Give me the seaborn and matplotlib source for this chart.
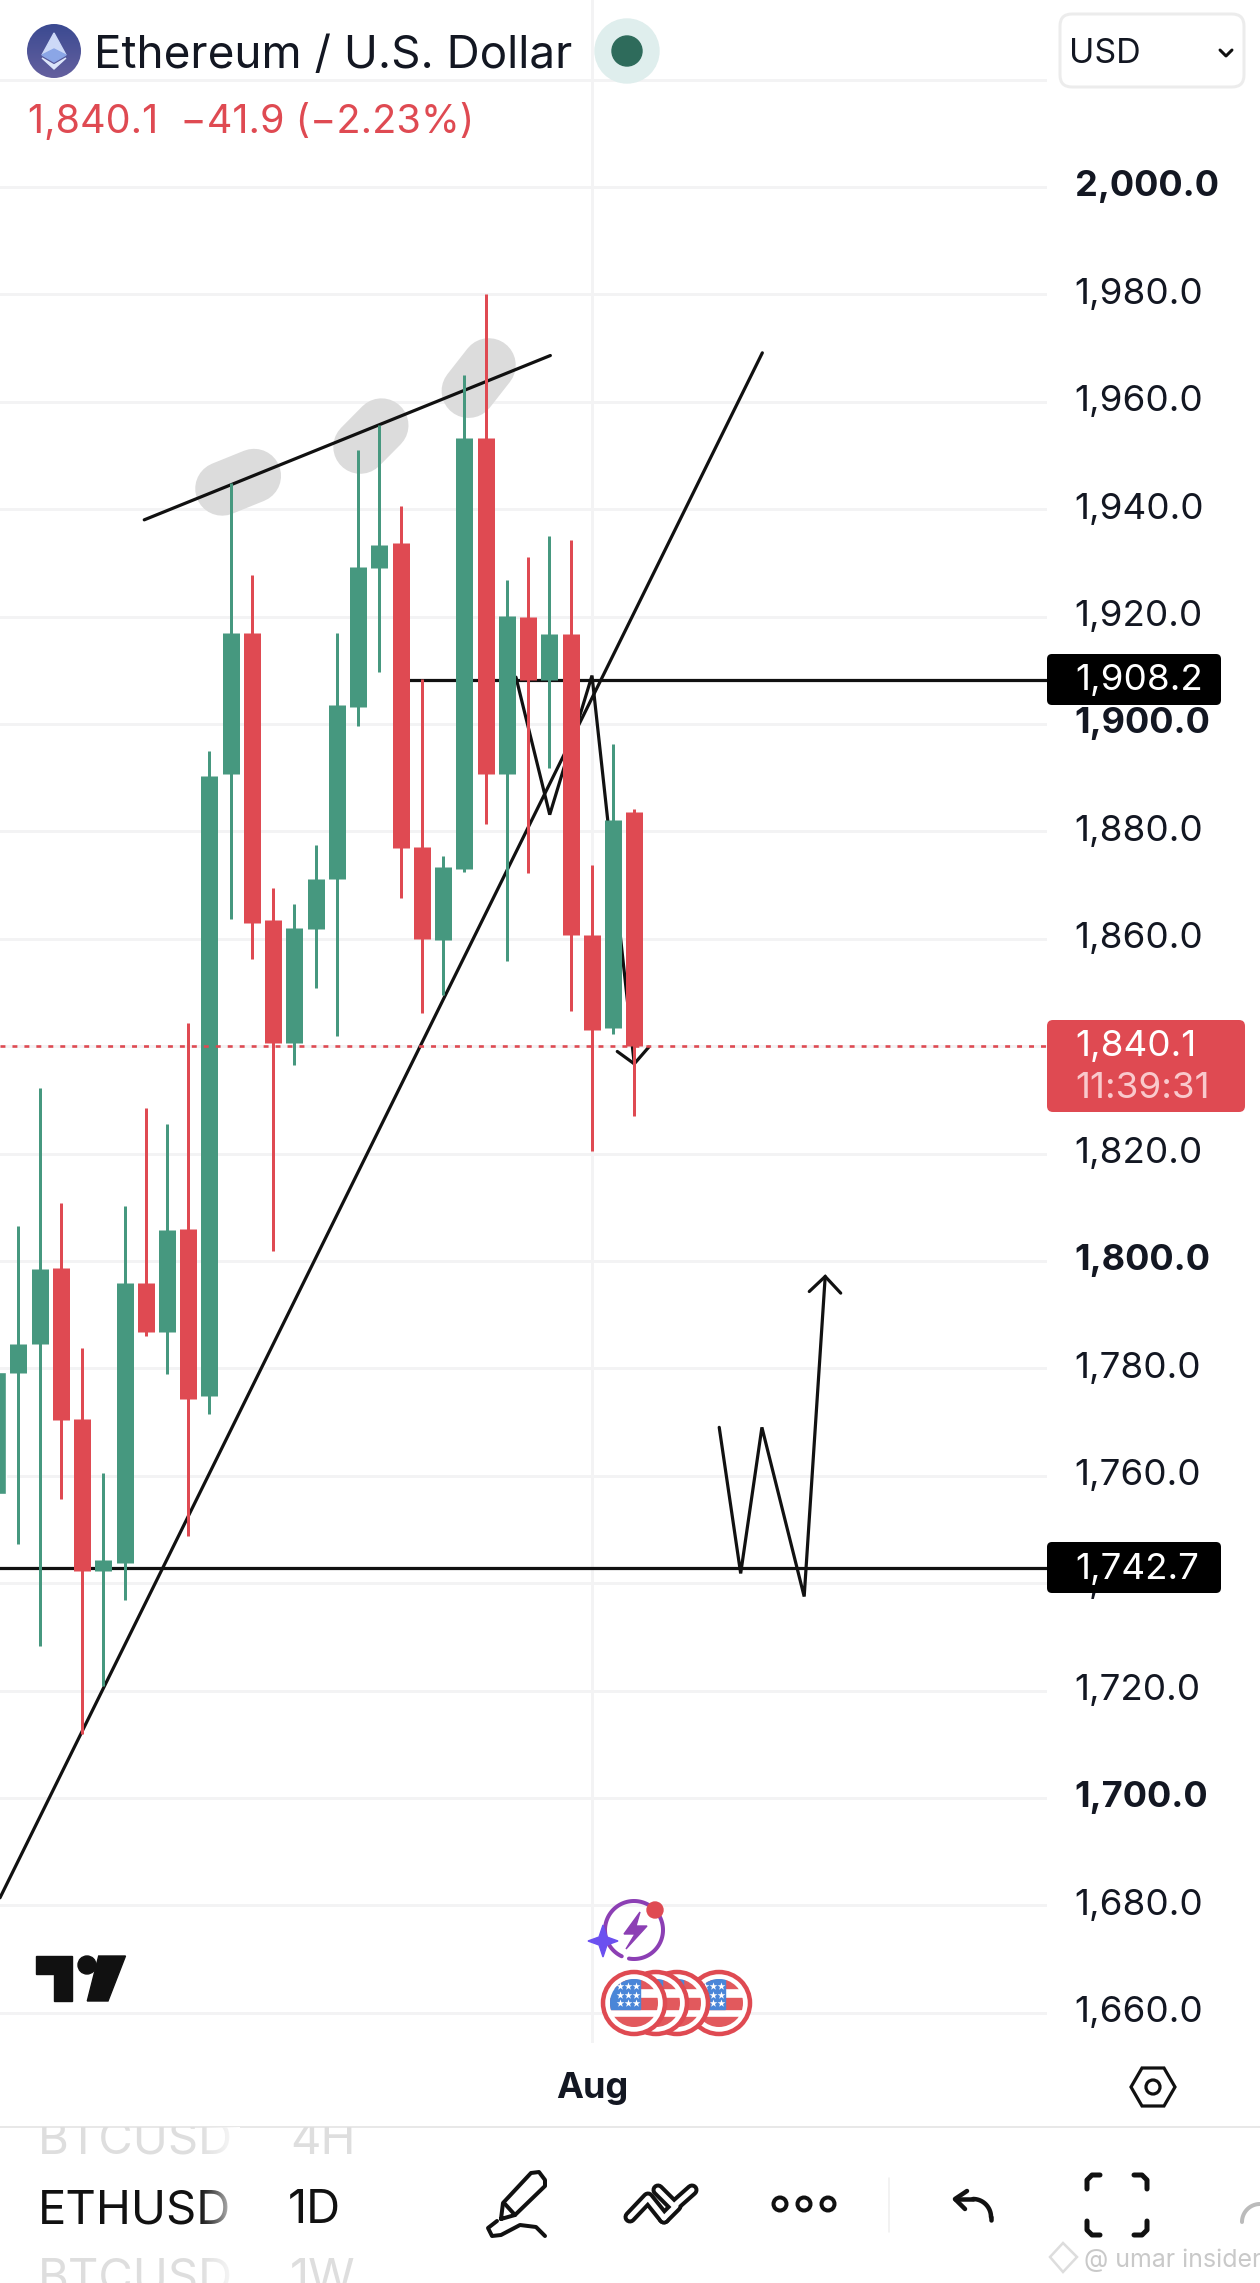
import numpy as np
import pandas as pd
import matplotlib.pyplot as plt
import seaborn as sns
from matplotlib.patches import Circle, Polygon, Rectangle, FancyBboxPatch

# daily candles, bar number = position from the left edge
bars = list(range(31))
opens = [1756.5, 1779.2, 1784.5, 1798.7, 1770.5, 1742.2, 1743.8, 1795.9, 1786.8, 1805.9, 1774.8,
         1890.7, 1916.9, 1863.5, 1840.6, 1861.8, 1871.1, 1903.1, 1929.1, 1933.7, 1877.1,
         1859.7, 1873.0, 1953.2, 1890.7, 1919.9, 1908.2, 1916.7, 1860.7, 1843.4, 1883.6]
highs = [1790.0, 1806.5, 1832.2, 1810.8, 1783.7, 1760.5, 1810.3, 1828.5, 1825.5, 1844.3, 1895.0,
         1944.8, 1927.7, 1869.4, 1866.5, 1877.5, 1916.9, 1951.0, 1955.6, 1940.6, 1908.3,
         1875.4, 1965.0, 1980.1, 1926.8, 1931.1, 1935.0, 1934.2, 1873.7, 1896.2, 1884.1]
lows = [1745.0, 1747.3, 1728.2, 1755.7, 1711.9, 1720.8, 1736.8, 1786.1, 1779.0, 1748.7, 1771.5,
        1863.6, 1856.2, 1801.9, 1836.5, 1850.8, 1841.9, 1899.6, 1909.7, 1867.6, 1846.2,
        1849.6, 1872.5, 1881.4, 1855.9, 1872.2, 1891.8, 1846.5, 1820.4, 1842.3, 1827.0]
closes = [1779.3, 1784.5, 1798.5, 1770.3, 1742.3, 1744.3, 1795.9, 1786.8, 1805.8, 1774.3, 1890.3,
          1916.9, 1862.9, 1840.6, 1862.0, 1871.1, 1903.5, 1929.2, 1933.4, 1876.9, 1859.9,
          1873.3, 1953.2, 1890.7, 1920.1, 1908.2, 1916.7, 1860.7, 1843.0, 1882.1, 1840.1]

price_ticks = [2000, 1980, 1960, 1940, 1920, 1900, 1880, 1860, 1840, 1820, 1800,
               1780, 1760, 1740, 1720, 1700, 1680, 1660]
bold_ticks = [2000, 1900, 1800, 1700]
last_price = 1840.1
level_high = 1908.2
level_low = 1742.9
aug_bar = 28

# hand drawn lines on the chart, in bar / price
top_line_x = [6.93, 26.05]
top_line_y = [1938.0, 1968.6]
rise_line_x = [0.138, 36.03]
rise_line_y = [1681.4, 1969.1]
zig_x = [24.43, 26.02, 28.01, 30.0]
zig_y = [1908.7, 1883.1, 1909.0, 1836.7]
zig_head_x = [29.2, 30.0, 30.68]
zig_head_y = [1839.0, 1836.7, 1839.8]
w_x = [34.0, 35.01, 36.01, 38.0, 38.99]
w_y = [1769.0, 1741.8, 1769.0, 1737.5, 1797.1]
w_head_x = [38.24, 38.99, 39.72]
w_head_y = [1794.3, 1797.1, 1794.0]
blobs_x = [[10.6, 12.1], [17.1, 18.1], [22.2, 23.15]]
blobs_y = [[1943.8, 1946.2], [1951.6, 1955.6], [1962.0, 1966.8]]

GREEN = '#46987f'
RED = '#df4a52'
INK = '#131722'
GRID = '#f3f3f4'
W, H = 1260, 2283


def px(v):
    # line width in image pixels
    return v * 0.72


sns.set_theme(style='white')
plt.rcParams['font.family'] = ['Inter', 'DejaVu Sans']

df = pd.DataFrame({'bar': bars, 'open': opens, 'high': highs, 'low': lows, 'close': closes})
df['dir'] = np.where(df['close'] >= df['open'], 'up', 'down')
wicks = df.melt(id_vars=['bar', 'dir'], value_vars=['high', 'low'], value_name='price')
bodies = df.melt(id_vars=['bar', 'dir'], value_vars=['open', 'close'], value_name='price')
palette = {'up': GREEN, 'down': RED}

fig = plt.figure(figsize=(W / 100, H / 100), dpi=100, facecolor='white')
pane_w, pane_h = 1047, 2043
ax = fig.add_axes([0, 1 - pane_h / H, pane_w / W, pane_h / H])

# scale: 21.24 px per bar, 5.37 px per dollar
left = 1 - 18.3 / 21.24
ax.set_xlim(left, left + pane_w / 21.24)
ax.set_ylim(1980 - (pane_h - 294.3) / 5.37, 1980 + 294.3 / 5.37)

# grid first, the drawings sit under the candles
ax.set_axisbelow(True)
ax.grid(True, color=GRID, lw=px(3))
for s in ax.spines.values():
    s.set_visible(False)

for bx, by in zip(blobs_x, blobs_y):
    ax.plot(bx, by, color='#dcdcdc', lw=px(54), solid_capstyle='round', zorder=1.2)

draw = dict(color='#111111', lw=px(3.2), zorder=1.5, solid_joinstyle='miter')
ax.plot(top_line_x, top_line_y, **draw)
ax.plot(rise_line_x, rise_line_y, **draw)
ax.plot([19.2, 60], [level_high, level_high], **draw)
ax.plot([-1, 60], [level_low, level_low], **draw)
ax.plot(zig_x, zig_y, **draw)
ax.plot(zig_head_x, zig_head_y, **draw)
ax.plot(w_x, w_y, **draw)
ax.plot(w_head_x, w_head_y, **draw)

sns.lineplot(data=wicks, x='bar', y='price', hue='dir', units='bar', estimator=None, palette=palette,
             lw=px(3), legend=False, ax=ax, solid_capstyle='butt', zorder=2)
sns.lineplot(data=bodies, x='bar', y='price', hue='dir', units='bar', estimator=None, palette=palette,
             lw=px(17), legend=False, ax=ax, solid_capstyle='butt', zorder=2.1)
# bar 0 is centred off the canvas, agg drops a line there so it needs a real bar
ax.bar(bars[0], closes[0] - opens[0], bottom=opens[0], width=17 / 21.24, color=GREEN, zorder=2.1)

ax.axhline(last_price, color=RED, lw=px(2.6), ls=(0, (1.9, 2.7)), zorder=3)

ax.set_xlabel('')
ax.set_ylabel('')
ax.set_yticks([2020] + price_ticks)
ax.set_yticklabels([''] + [f'{p:,.1f}' for p in price_ticks])
ax.yaxis.tick_right()
ax.tick_params(axis='y', length=0, pad=20, labelsize=26.5, labelcolor=INK)
for lab, p in zip(ax.get_yticklabels()[1:], price_ticks):
    lab.set_verticalalignment('center')
    if p in bold_ticks:
        lab.set_fontweight('bold')
        lab.set_fontsize(26)
ax.set_xticks([aug_bar])
ax.set_xticklabels(['Aug'], fontweight='bold', fontsize=26, color=INK)
ax.tick_params(axis='x', length=0, pad=21)

# everything around the chart in image pixels
ui = fig.add_axes([0, 0, 1, 1], facecolor='none')
ui.set_xlim(0, W)
ui.set_ylim(H, 0)
ui.axis('off')


def stroke(xs, ys, width=4.5, color='#111111', z=5, cap='round'):
    ui.plot(xs, ys, color=color, lw=px(width), solid_capstyle=cap, solid_joinstyle='round', zorder=z)


def arc(cx, cy, r, a0, a1, **kw):
    t = np.radians(np.linspace(a0, a1, 60))
    stroke(cx + r * np.cos(t), cy + r * np.sin(t), **kw)


# header
ui.imshow(np.linspace(0, 1, 64)[:, None], extent=(27, 81, 78, 24), aspect='auto', zorder=4,
          cmap=plt.matplotlib.colors.LinearSegmentedColormap.from_list('eth', ['#3b4a91', '#64609f']))
ui.set_xlim(0, W)
ui.set_ylim(H, 0)
ui.images[0].set_clip_path(Circle((54, 51), 27, transform=ui.transData))
ui.add_patch(Polygon([(54, 33), (66, 55), (54, 49), (42, 55)], color='#cdd9f7', zorder=5))
ui.add_patch(Polygon([(54, 49), (66, 55), (54, 62), (42, 55)], color='#8ba6e6', zorder=5))
ui.add_patch(Polygon([(42, 58), (54, 65), (66, 58), (54, 69)], color='#dde6fa', zorder=5))
ui.text(94, 68, 'Ethereum / U.S. Dollar', fontsize=33, color=INK, zorder=6)
ui.add_patch(Circle((627, 51), 32, color='#dfeeed', zorder=5))
ui.add_patch(Circle((627, 51), 15, color='#2e6b5b', zorder=6))
ui.text(28, 133, '1,840.1  \u221241.9 (\u22122.23%)', fontsize=28.5, color=RED, zorder=6)
ui.add_patch(FancyBboxPatch((1060, 14), 184, 73, boxstyle='round,pad=0,rounding_size=12',
                            fc='white', ec='#ececec', lw=px(3), zorder=5))
ui.text(1069, 63, 'USD', fontsize=24.5, color=INK, zorder=6)
stroke([1220, 1226, 1232], [50, 56, 50], width=3)

# price tags, they cover the axis labels
ui.add_patch(FancyBboxPatch((1047, 654), 174, 51, boxstyle='round,pad=0,rounding_size=5', fc='black', ec='none', zorder=5))
ui.add_patch(FancyBboxPatch((1047, 1542), 174, 51, boxstyle='round,pad=0,rounding_size=5', fc='black', ec='none', zorder=5))
ui.add_patch(FancyBboxPatch((1047, 1020), 198, 92, boxstyle='round,pad=0,rounding_size=6', fc=RED, ec='none', zorder=5))
ui.text(1075, 690, '1,908.2', fontsize=26.5, color='white', zorder=6)
ui.text(1075, 1579, '1,742.7', fontsize=26.5, color='white', zorder=6)
ui.text(1075, 1056, '1,840.1', fontsize=26.5, color='white', zorder=6)
ui.text(1075, 1098, '11:39:31', fontsize=26.5, color='#f9c9cc', zorder=6)

# tradingview logo
ui.add_patch(Polygon([(36, 1956), (72, 1956), (72, 2001), (54, 2001), (54, 1974), (36, 1974)], color='#111111', zorder=5))
ui.add_patch(Circle((87, 1965), 9, color='#111111', zorder=5))
ui.add_patch(Polygon([(98.7, 1956), (125.5, 1956), (108, 2001), (87.3, 2001)], color='#111111', zorder=5))

# event icons above the time axis
arc(634, 1930, 29, -55, 100, width=4, color='#8c3fb4')
arc(634, 1930, 29, 115, 300, width=4, color='#8c3fb4')
ui.add_patch(Polygon([(640, 1912), (624, 1934), (635, 1934), (626, 1949), (647, 1926), (636, 1926)], color='#8c3fb4', zorder=6))
ui.add_patch(Circle((655, 1910), 8, color=RED, zorder=7))
ui.add_patch(Polygon([(603, 1925), (607, 1937), (618, 1941), (607, 1945), (603, 1957), (599, 1945), (588, 1941), (599, 1937)],
                     color='#6b50f0', zorder=7))


def coin(cx, cy, z):
    ui.add_patch(Circle((cx, cy), 31, fc='white', ec=RED, lw=px(4.5), zorder=z))
    clip = Circle((cx, cy), 24, transform=ui.transData)
    for y0, y1 in [(cy - 23, cy - 15), (cy - 5, cy + 6), (cy + 14, cy + 25)]:
        r = Rectangle((cx - 25, y0), 50, y1 - y0, color='#e2595d', zorder=z + 0.1)
        ui.add_patch(r)
        r.set_clip_path(clip)
    r = Rectangle((cx - 24, cy - 24), 30, 30, color='#4a86d8', zorder=z + 0.2)
    ui.add_patch(r)
    r.set_clip_path(clip)
    sx, sy = np.meshgrid([cx - 14, cx - 6, cx + 2], [cy - 17, cy - 8, cy])
    ui.scatter(sx.ravel(), sy.ravel(), marker='*', s=34, color='white', lw=0, zorder=z + 0.3)


for i, cx in enumerate([719, 677, 656, 634]):
    coin(cx, 2003, 5 + i)

# settings hexagon next to the time axis
ui.add_patch(Polygon([(1131, 2087), (1142, 2068), (1164, 2068), (1175, 2087), (1164, 2106), (1142, 2106)],
                     fc='white', ec='#111111', lw=px(3.2), zorder=5))
ui.add_patch(Circle((1153, 2087), 7, fc='white', ec='#111111', lw=px(3.2), zorder=6))

# toolbar
ui.plot([0, W], [2127, 2127], color='#e8e8e8', lw=px(2), zorder=4)
strip = Rectangle((0, 2127), W, H - 2127, transform=ui.transData)
for x, y, s, c in [(38, 2154, 'BTCUSD', '#dedede'), (290, 2154, '4H', '#dedede'),
                   (38, 2292, 'BTCUSD', '#dedede'), (290, 2292, '1W', '#dedede'),
                   (38, 2223, 'ETHUSD', '#111111'), (288, 2223, '1D', '#111111')]:
    t = ui.text(x, y, s, fontsize=34, color=c, zorder=5, clip_on=True)
    t.set_clip_path(strip)
fade = np.ones((1, 64, 4))
fade[0, :, 3] = np.linspace(0, 1, 64) ** 1.4
ui.imshow(fade, extent=(195, 240, H, 2127), aspect='auto', zorder=5.5)
ui.set_xlim(0, W)
ui.set_ylim(H, 0)

# pencil
stroke([501, 503, 531, 539, 545, 545, 515, 501], [2219, 2203, 2173, 2172, 2180, 2186, 2215, 2219], width=4)
stroke([505, 515], [2204, 2215], width=4)
stroke([497, 488, 492, 501, 520, 536, 545], [2221, 2228, 2236, 2235, 2225, 2227, 2236], width=4)
# double chevron, thick black with a white core
for sx, sy in [([630, 648, 664], [2217, 2198, 2218]), ([658, 674, 692], [2190, 2206, 2190])]:
    stroke(sx, sy, width=13, z=5)
    stroke(sx, sy, width=5, color='white', z=5.1)
stroke([664, 676], [2218, 2206], width=13, z=4.9)
stroke([664, 676], [2218, 2206], width=5, color='white', z=5.05)
for cx in [780, 804, 828]:
    ui.add_patch(Circle((cx, 2204), 6.5, fc='white', ec='#111111', lw=px(4), zorder=5))
ui.plot([888.5, 888.5], [2178, 2232], color='#eeeeee', lw=px(1.5), zorder=4)
# undo
arc(973, 2217, 18, 270, 360, width=4.5)
stroke([991, 991], [2217, 2220], width=4.5)
stroke([955, 973], [2199, 2199], width=4.5)
stroke([967, 955, 965], [2191, 2199, 2209], width=4.5)
# fullscreen corners
for cx, cy, sx, sy in [(1087, 2175, 1, 1), (1147, 2175, -1, 1), (1087, 2235, 1, -1), (1147, 2235, -1, -1)]:
    stroke([cx + sx * 13, cx + sx * 5, cx, cx, ], [cy, cy, cy + sy * 5, cy + sy * 14], width=5)
arc(1260, 2222, 18, 180, 270, width=4, color='#bbbbbb')

# watermark
ui.add_patch(Polygon([(1063, 2243), (1077, 2257), (1063, 2272), (1050, 2257)], fc='none', ec='#dddddd', lw=px(2.5), zorder=5))
ui.text(1084, 2267, '@ umar insider', fontsize=18, color='#c9c9c9', zorder=6)

fig.savefig('out.png', dpi=100)
